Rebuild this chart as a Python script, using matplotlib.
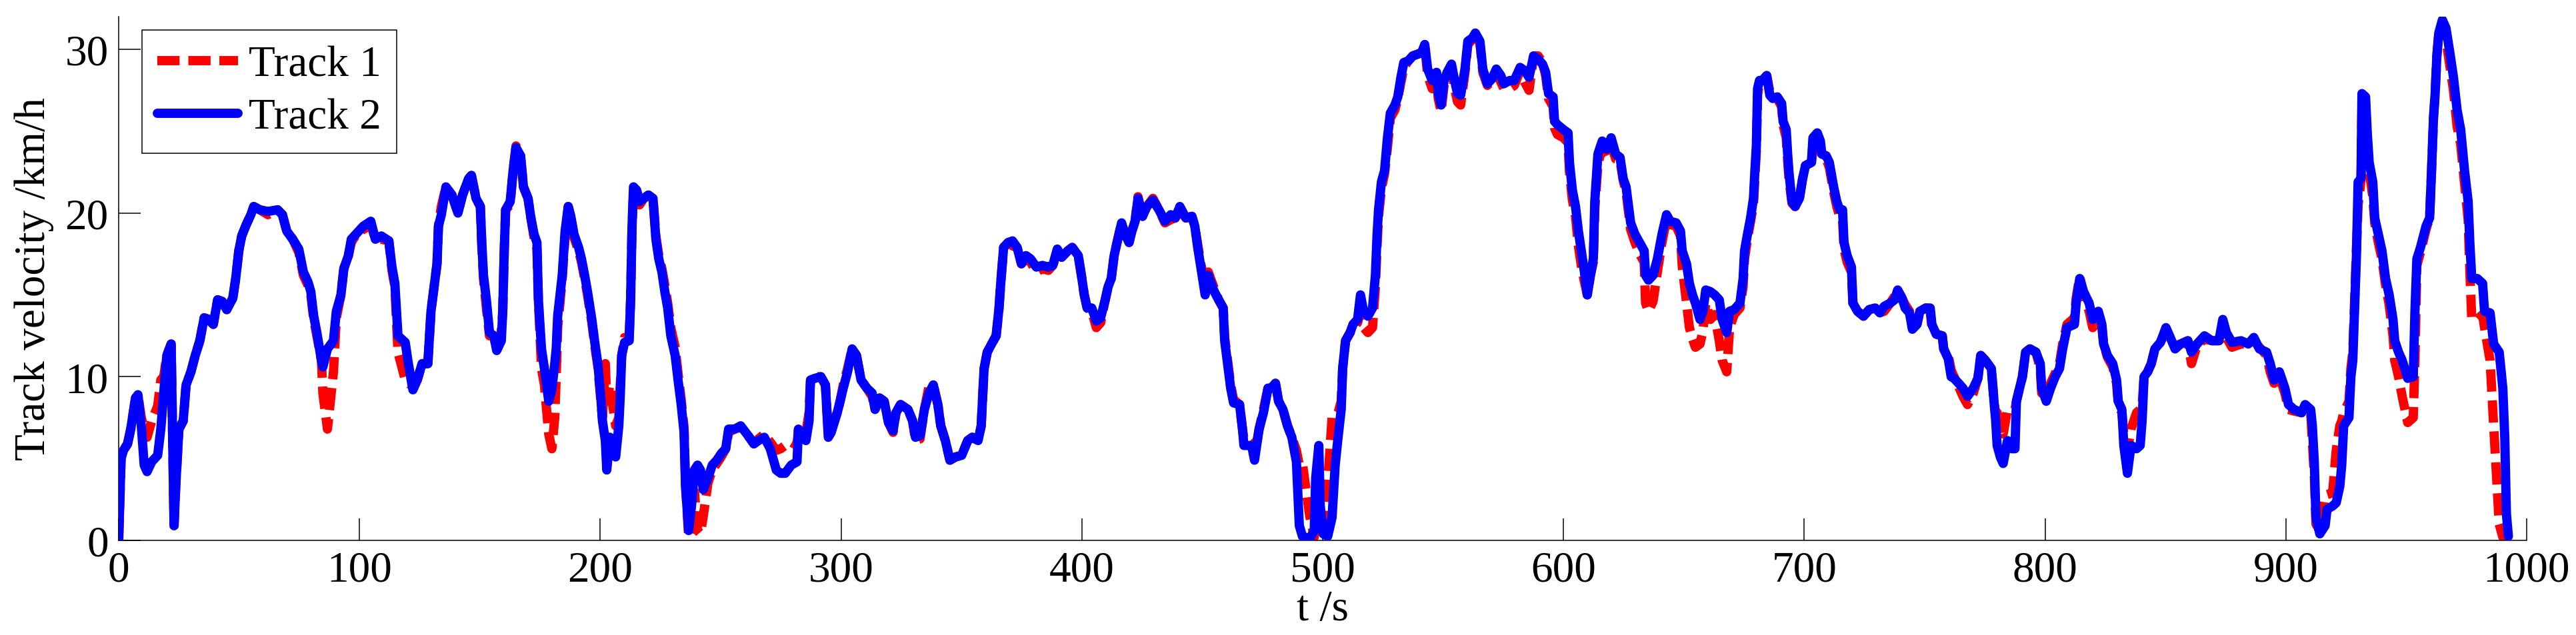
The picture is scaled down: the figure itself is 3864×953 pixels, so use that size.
import matplotlib
matplotlib.use("Agg")
import matplotlib.pyplot as plt

# time axis shared by both tracks (s)
t_s = [
    0, 1, 2, 3.7, 5, 7, 8, 9.4, 10.6, 11.8,
    13.7, 16.2, 17.5, 18.7, 20, 21.8, 23, 23.7, 25, 26.8,
    28, 30, 31.8, 33.7, 35.5, 37.4, 39.3, 41.1, 43, 44.9,
    47.4, 48.6, 49.9, 51.1, 53, 54.9, 56.1, 58.6, 62, 66,
    68, 69.8, 72.3, 74.8, 76.7, 78.6, 79.8, 81, 82.3, 84.2,
    84.8, 86.7, 89.2, 90.4, 92.3, 93.5, 95.4, 96.6, 99.1, 101.6,
    104.7, 106.6, 109.1, 112.2, 113.5, 114.7, 116, 119, 120.3, 122.2,
    124, 126, 128.4, 129.7, 132.2, 132.8, 134, 135.9, 138.4, 140.9,
    142.8, 145.3, 146.5, 148.4, 150.2, 150.8, 151.5, 152.7, 154, 155.8,
    157, 158.9, 159.5, 160.1, 160.7, 162.6, 163.8, 165, 166.9, 168.1,
    170, 171.2, 172.5, 173.7, 174.3, 175.6, 176.8, 178.6, 179.9, 181.1,
    181.7, 182.3, 184.2, 185.4, 186.7, 187.9, 189.1, 191, 192.2, 193.5,
    194.7, 196.5, 197.8, 199, 200.2, 200.9, 202.1, 202.7, 204, 206.4,
    207.7, 208.3, 208.9, 210.1, 212, 212.6, 213.2, 213.8, 215.1, 216.3,
    218.1, 220, 221.9, 223.1, 224.3, 225.6, 226.8, 228, 229.3, 231.1,
    232.3, 233.6, 234.8, 235.4, 236.7, 237.9, 239.1, 240.4, 241.6, 242.8,
    244.7, 246.5, 248.4, 250.2, 252.1, 253.3, 255.8, 258.3, 261.4, 263.8,
    265.7, 268.1, 270.6, 273.1, 274.9, 276.8, 279.3, 281.7, 282.3, 284.2,
    285.4, 286.7, 287.3, 289.1, 291.6, 293.5, 294.7, 295.9, 298.4, 299.6,
    300.9, 302.7, 304.6, 306.4, 308.3, 310.7, 312.9, 314.1, 316, 317.9,
    319.7, 321.6, 322.8, 324.7, 327.8, 329.7, 330.9, 332.8, 334.6, 336.5,
    338.3, 340.2, 341.4, 343.3, 345.2, 347.6, 350.1, 352.6, 354.5, 356.9,
    358.2, 358.8, 359.4, 360.7, 362.5, 364.4, 365.6, 366.3, 367.5, 369.4,
    371.2, 373.1, 374.9, 376.8, 378.7, 381.1, 383.6, 386.1, 387.9, 389.8,
    391.6, 394.2, 396, 398.5, 399.8, 401, 402.2, 404.1, 406, 407.8,
    409.7, 410.9, 412.2, 413.4, 414.6, 416.5, 417.7, 419.6, 420.8, 422.1,
    423.3, 425.2, 427, 429.5, 432, 434.5, 436.9, 438.8, 440.7, 443.2,
    445.7, 446.9, 448.1, 449.4, 451.2, 452.5, 453.7, 455, 456.8, 458.7,
    459.3, 460.5, 461.8, 463, 465.5, 466.7, 467.3, 469.2, 470.5, 471.7,
    473.6, 475.4, 477.3, 478.6, 480.4, 481.7, 483.5, 485.4, 487.2, 489.1,
    490.3, 491.6, 494.6, 496.5, 497.1, 498.4, 499, 500.2, 502.1, 503.9,
    505.2, 506.4, 507.7, 508.3, 509.5, 511.4, 512.6, 514.5, 515.7, 517,
    518.8, 520.7, 521.9, 522.6, 523.2, 524.4, 525.7, 526.9, 528.1, 530,
    531.2, 532.5, 533.7, 535.6, 537.4, 539.3, 541.1, 542.4, 543.6, 545.5,
    547.3, 548, 549.2, 550.4, 551.7, 553.5, 554.8, 556, 557.3, 559.1,
    560.3, 562.2, 563.4, 565.3, 566.5, 568.4, 570.3, 572.1, 574, 575.2,
    577.7, 579.6, 582, 583.9, 585.7, 587.6, 589.5, 591.3, 592.6, 593.8,
    595.7, 596.3, 597.5, 600, 601.9, 602.5, 603.7, 605, 606.2, 607.4,
    608.7, 609.9, 611.2, 612.4, 613, 614.3, 616.1, 618, 619.8, 621.7,
    623.5, 624.8, 626, 627.9, 629.7, 631.6, 633.5, 634.1, 635.3, 637.2,
    639, 640.9, 642.8, 644.3, 646.8, 648.6, 649.3, 651.1, 652.3, 653.6,
    654.8, 656.7, 657.9, 659.1, 661, 662.8, 664.7, 665.9, 667.8, 669,
    670.9, 673.3, 674.6, 675.2, 676.4, 677.7, 678.9, 679.5, 680.1, 680.6,
    681.4, 682.6, 684.4, 685.7, 686.9, 688.8, 690.6, 691.2, 692.5, 693.1,
    693.7, 694.9, 696.2, 698, 699.3, 700.5, 703, 703.6, 705.4, 706.7,
    707.3, 709.1, 710.4, 711, 712.2, 713.5, 714.7, 715.9, 716.5, 717.8,
    719.6, 720.2, 722.1, 724.6, 727, 729.5, 731.4, 733.2, 735.7, 737.5,
    738.8, 740.6, 741.9, 743.7, 744.9, 746.8, 748, 750.5, 752.3, 753,
    754.8, 757.3, 757.9, 759.8, 761, 762.2, 764.1, 765.9, 767.8, 770.2,
    772.1, 773.3, 775.2, 777.7, 778.9, 779.5, 780.1, 781.4, 782.6, 784.4,
    786.3, 787.5, 788.1, 789.4, 790.6, 791.9, 793.7, 796.2, 798, 798.6,
    800.5, 802.3, 804.2, 806, 807.3, 809.1, 812.2, 812.9, 814.4, 816,
    818.3, 819.8, 822.1, 823.6, 824.3, 825.9, 828.1, 829.7, 830.4, 831.9,
    832.7, 834.2, 835.7, 838, 839.5, 840.3, 841.1, 842.6, 844.1, 845.6,
    847.9, 850.2, 851.7, 854, 856.3, 859.3, 860.8, 863.1, 866.2, 869.2,
    872.2, 873.8, 875.3, 877.6, 881.4, 884.4, 886.7, 889, 892, 893.5,
    895.1, 897.3, 899.6, 901.1, 903.4, 906.5, 908, 910.3, 911, 911.8,
    912.5, 914.1, 916.3, 917.1, 919.4, 920.9, 922.4, 923.2, 924, 926.2,
    927, 927.8, 928.5, 929.3, 930, 931.2, 931.6, 933.1, 933.8, 934.6,
    936.1, 936.9, 938.4, 939.9, 941.4, 942.9, 944.5, 945.2, 946.8, 948.3,
    950.6, 952.9, 953.6, 954.4, 955.9, 958.2, 959.7, 960.5, 961.3, 962,
    962.7, 963.5, 965, 966.5, 968.1, 969.6, 971.1, 972.6, 974.2, 975.7,
    976.4, 977.2, 979.5, 981.7, 982.5, 984.8, 986.3, 988.6, 990.1, 990.9,
    991.6, 992.4,
]

# Track 2 velocity (km/h), blue solid
track2 = [
    0, 5.0, 5.5, 5.9, 6.8, 8.7, 8.9, 7.0, 4.6, 4.2,
    4.8, 5.2, 6.8, 9.0, 11.3, 12.0, 0.9, 3.3, 6.8, 7.3,
    9.5, 10.3, 11.3, 12.2, 13.6, 13.5, 13.2, 14.7, 14.6, 14.1,
    14.8, 16.0, 17.7, 18.6, 19.3, 19.9, 20.4, 20.2, 20.1, 20.2,
    19.9, 18.9, 18.4, 17.8, 16.4, 15.8, 15.2, 13.7, 12.7, 11.0,
    10.6, 11.7, 12.2, 14.0, 15.0, 16.6, 17.4, 18.4, 18.8, 19.2,
    19.5, 18.4, 18.6, 18.3, 16.7, 15.7, 12.5, 12.1, 10.8, 9.2,
    9.8, 10.8, 10.8, 14.0, 16.9, 19.2, 19.9, 21.6, 21.1, 20.0,
    21.1, 22.1, 22.3, 20.9, 20.4, 18.2, 16.2, 14.7, 12.7, 12.5,
    11.6, 12.2, 14.0, 17.6, 20.2, 20.7, 22.6, 24.0, 23.5, 21.6,
    20.9, 19.7, 18.7, 18.2, 14.7, 11.7, 10.5, 8.5, 9.2, 10.8,
    11.7, 13.7, 16.2, 18.9, 20.4, 19.7, 18.7, 17.9, 17.2, 16.2,
    15.2, 13.5, 12.0, 10.8, 8.8, 7.3, 6.1, 4.3, 6.3, 5.1,
    7.0, 8.8, 11.3, 12.1, 12.2, 14.7, 19.2, 21.6, 21.4, 20.7,
    20.9, 21.1, 20.9, 18.4, 17.2, 16.4, 15.2, 14.2, 12.5, 11.3,
    9.8, 8.3, 6.6, 3.3, 0.6, 2.1, 4.3, 4.6, 4.3, 3.1,
    3.8, 4.6, 4.9, 5.3, 5.6, 6.8, 6.8, 7.0, 6.4, 5.9,
    6.1, 6.3, 5.6, 4.3, 4.1, 4.1, 4.6, 4.8, 6.8, 6.3,
    6.1, 7.3, 9.8, 9.9, 10.0, 9.5, 6.3, 6.6, 7.8, 8.5,
    9.3, 10.3, 11.7, 11.3, 9.8, 9.3, 9.0, 8.0, 8.7, 8.5,
    7.2, 6.7, 7.8, 8.3, 8.0, 7.3, 6.3, 6.4, 8.0, 9.0,
    9.5, 8.3, 7.0, 6.1, 4.9, 5.1, 5.2, 6.1, 6.3, 6.1,
    7.0, 8.8, 10.5, 11.5, 12.0, 12.5, 14.2, 15.7, 17.9, 18.2,
    18.3, 17.9, 16.9, 17.4, 17.2, 16.7, 16.8, 16.7, 16.8, 17.8,
    17.3, 17.7, 17.9, 17.4, 16.2, 15.0, 14.2, 14.2, 13.4, 13.6,
    14.7, 15.5, 16.0, 17.4, 18.2, 19.4, 18.8, 18.2, 18.9, 19.5,
    20.9, 19.8, 20.4, 20.8, 20.2, 19.5, 19.9, 19.7, 20.4, 19.7,
    19.8, 19.2, 17.9, 16.7, 15.0, 16.2, 15.7, 15.2, 14.7, 14.2,
    12.2, 10.8, 9.3, 8.4, 8.3, 6.8, 5.8, 5.8, 5.8, 4.9,
    6.8, 7.8, 9.3, 9.3, 9.6, 8.5, 8.0, 7.0, 6.3, 4.8,
    0.9, 0.25, 0.1, 0.6, 3.8, 5.8, 2.1, 0.4, 0.25, 1.4,
    4.6, 6.3, 8.0, 10.5, 12.2, 12.7, 13.2, 13.5, 15.0, 14.0,
    13.7, 14.2, 16.2, 18.7, 20.2, 21.9, 22.6, 24.6, 26.1, 26.6,
    27.1, 28.3, 29.2, 29.3, 29.6, 29.7, 29.8, 30.3, 28.8, 28.1,
    28.6, 27.3, 26.6, 28.1, 28.6, 29.1, 28.1, 27.3, 27.2, 28.8,
    30.5, 30.7, 31.0, 30.5, 28.8, 27.9, 28.2, 28.8, 28.4, 27.9,
    28.1, 28.1, 28.9, 28.7, 28.3, 29.6, 29.4, 29.1, 28.6, 27.3,
    27.1, 25.6, 25.4, 25.1, 24.9, 23.1, 21.4, 20.4, 18.9, 17.7,
    16.4, 15.0, 16.2, 17.2, 20.7, 23.6, 24.4, 23.9, 24.6, 23.6,
    23.4, 22.1, 21.6, 19.4, 18.7, 18.2, 17.7, 16.2, 15.9, 16.2,
    17.2, 18.7, 19.9, 19.5, 19.4, 18.9, 17.7, 16.9, 15.7, 15.0,
    14.5, 13.5, 14.0, 15.3, 15.2, 15.0, 14.7, 13.5, 12.7, 14.0,
    14.1, 14.5, 16.0, 17.7, 18.7, 19.7, 20.9, 22.6, 24.1, 27.6,
    28.1, 28.1, 28.4, 27.2, 27.0, 27.1, 26.7, 25.6, 25.1, 23.6,
    22.4, 20.7, 20.4, 20.9, 22.1, 22.9, 23.1, 24.6, 24.9, 24.4,
    23.6, 23.5, 23.1, 22.6, 21.6, 20.7, 20.2, 20.2, 18.2, 17.4,
    16.7, 14.5, 14.0, 13.7, 14.1, 14.2, 13.9, 14.3, 14.5, 14.7,
    15.3, 14.8, 14.2, 13.9, 12.9, 13.2, 14.0, 14.2, 14.2, 13.2,
    12.6, 12.5, 11.7, 11.1, 10.0, 9.9, 9.6, 9.3, 8.8, 9.3,
    9.9, 11.3, 11.0, 10.5, 8.3, 7.3, 5.8, 5.1, 4.7, 6.1,
    5.6, 5.6, 8.5, 9.3, 10.0, 11.5, 11.7, 11.5, 10.8, 9.3,
    8.5, 9.3, 10.0, 10.5, 11.7, 13.0, 13.2, 14.5, 16.0, 15.2,
    14.5, 13.5, 14.0, 13.2, 12.0, 11.3, 10.8, 9.8, 8.5, 8.0,
    5.8, 4.1, 5.8, 5.6, 5.8, 7.3, 10.0, 10.3, 10.8, 11.7,
    12.1, 13.0, 12.5, 11.7, 12.0, 12.2, 11.5, 12.0, 12.5, 12.2,
    12.2, 13.5, 12.7, 12.1, 12.2, 12.0, 12.4, 11.7, 11.5, 10.8,
    9.8, 10.3, 9.3, 8.3, 8.0, 7.8, 8.3, 8.0, 7.0, 4.8,
    1.4, 0.4, 0.9, 1.9, 2.1, 2.3, 3.3, 4.6, 7.0, 7.5,
    10.0, 11.0, 14.0, 17.4, 21.9, 22.1, 27.3, 27.1, 24.9, 23.1,
    21.9, 19.7, 18.7, 17.7, 16.0, 15.0, 13.5, 12.2, 11.5, 11.0,
    9.9, 10.0, 14.0, 17.2, 17.9, 19.2, 19.7, 22.6, 25.8, 27.3,
    29.6, 31.0, 31.8, 31.3, 29.8, 28.3, 26.3, 25.1, 22.6, 20.7,
    18.2, 16.0, 16.0, 15.7, 14.0, 13.9, 12.0, 11.5, 9.3, 6.3,
    1.6, 0.25,
]

# Track 1 velocity (km/h), red dashed
track1 = [
    0, 5.0, 5.5, 5.9, 6.8, 8.7, 8.9, 7.5, 6.8, 6.3,
    7.3, 8.2, 9.8, 10.0, 11.3, 12.0, 0.9, 3.3, 6.8, 7.3,
    9.5, 10.3, 11.3, 12.2, 13.6, 13.5, 13.2, 14.7, 14.6, 14.1,
    14.8, 16.0, 17.7, 18.6, 19.3, 19.9, 20.4, 20.2, 19.9, 20.2,
    19.9, 18.9, 18.4, 17.6, 16.2, 15.6, 15.0, 13.5, 12.5, 11.0,
    9.0, 6.8, 10.3, 13.6, 15.0, 16.6, 17.4, 18.2, 18.8, 19.0,
    19.3, 18.4, 18.4, 18.3, 16.5, 15.5, 11.5, 9.8, 9.6, 9.4,
    9.8, 10.8, 10.8, 14.0, 16.9, 19.2, 20.4, 21.6, 21.1, 20.0,
    21.1, 22.1, 22.3, 20.9, 20.4, 18.0, 16.0, 14.2, 12.5, 12.5,
    11.6, 12.8, 14.0, 17.6, 20.2, 20.5, 22.6, 24.1, 23.5, 21.6,
    20.9, 19.7, 18.5, 17.8, 14.7, 10.5, 9.5, 6.5, 5.6, 7.5,
    10.0, 13.0, 16.0, 18.6, 20.4, 19.7, 18.5, 17.7, 17.0, 16.0,
    15.0, 13.3, 11.8, 10.6, 8.6, 7.5, 10.8, 8.5, 9.5, 7.0,
    7.5, 9.5, 11.3, 12.4, 12.4, 14.7, 19.2, 21.2, 21.0, 20.5,
    20.9, 21.1, 20.9, 18.6, 17.4, 16.6, 15.6, 14.5, 13.0, 11.8,
    10.2, 8.6, 6.9, 3.5, 0.2, 0.8, 3.0, 0.6, 0.4, 1.5,
    3.5, 4.3, 4.7, 5.1, 5.6, 6.6, 6.8, 6.9, 6.4, 5.9,
    6.2, 6.5, 6.0, 5.5, 5.6, 5.8, 6.0, 5.8, 6.8, 6.5,
    6.6, 7.8, 9.8, 10.0, 10.0, 9.5, 6.5, 6.8, 7.8, 8.5,
    9.5, 10.5, 11.7, 11.3, 9.8, 9.3, 8.8, 8.0, 8.7, 8.5,
    7.2, 6.6, 7.8, 8.3, 8.0, 7.3, 6.1, 6.2, 8.0, 9.4,
    9.5, 8.3, 7.0, 6.1, 4.9, 5.1, 5.2, 6.1, 6.3, 6.1,
    7.0, 8.8, 10.5, 11.5, 12.0, 12.5, 14.2, 15.7, 17.9, 18.2,
    18.0, 17.9, 16.9, 17.2, 17.0, 16.4, 16.6, 16.5, 16.8, 17.5,
    17.3, 17.7, 17.9, 17.4, 16.2, 15.0, 14.2, 14.0, 13.0, 13.3,
    14.7, 15.5, 16.0, 17.4, 18.2, 19.4, 18.8, 18.2, 18.9, 19.5,
    21.0, 19.8, 20.4, 20.9, 20.2, 19.4, 19.6, 19.7, 20.2, 19.7,
    19.8, 19.2, 18.1, 16.9, 15.6, 16.4, 15.9, 15.4, 14.7, 14.2,
    12.4, 11.0, 9.5, 8.6, 8.3, 6.8, 6.2, 6.2, 6.0, 5.2,
    6.8, 8.0, 9.3, 9.3, 9.6, 8.5, 8.0, 7.0, 6.3, 5.5,
    4.6, 4.7, 1.5, 0.2, 2.5, 4.5, 1.0, 0.2, 3.5, 7.5,
    7.5, 7.8, 8.5, 10.5, 12.2, 12.7, 13.0, 13.3, 14.0, 13.0,
    12.7, 13.0, 15.5, 18.0, 19.8, 21.5, 22.4, 24.0, 25.8, 26.3,
    27.0, 28.0, 28.9, 29.3, 29.6, 29.7, 29.8, 30.2, 28.4, 27.6,
    28.3, 27.0, 26.2, 27.8, 28.3, 28.8, 27.6, 26.8, 26.6, 28.6,
    30.3, 30.6, 31.0, 30.4, 28.6, 27.8, 28.1, 28.6, 28.0, 27.6,
    27.6, 27.8, 28.7, 28.0, 27.5, 29.6, 29.6, 29.2, 28.4, 27.0,
    26.5, 25.2, 24.8, 24.6, 24.3, 22.5, 20.8, 19.8, 18.0, 16.8,
    15.8, 15.0, 16.2, 17.0, 20.2, 23.0, 24.0, 23.4, 24.2, 23.3,
    23.2, 22.0, 21.3, 19.0, 18.2, 17.5, 17.0, 14.5, 14.0, 14.6,
    16.4, 18.2, 19.6, 19.3, 19.2, 18.6, 16.8, 14.5, 13.0, 12.3,
    11.8, 12.0, 12.8, 14.5, 13.5, 13.8, 12.2, 11.0, 10.3, 13.0,
    13.8, 14.2, 15.5, 17.2, 18.4, 19.5, 20.5, 22.2, 23.8, 27.2,
    28.0, 28.1, 28.4, 27.4, 27.2, 27.0, 26.5, 25.4, 24.6, 23.2,
    22.0, 20.6, 20.4, 20.9, 22.1, 22.9, 23.1, 24.3, 24.6, 24.2,
    23.4, 23.3, 22.8, 22.3, 21.3, 20.4, 19.8, 19.6, 17.8, 17.0,
    16.4, 14.5, 14.0, 13.7, 14.1, 14.2, 13.9, 14.0, 14.5, 14.9,
    15.3, 14.8, 14.4, 14.0, 13.0, 13.2, 14.0, 14.2, 14.0, 13.0,
    12.6, 12.5, 11.7, 11.3, 10.4, 10.0, 9.4, 8.8, 8.3, 9.0,
    9.9, 11.3, 11.0, 10.5, 8.3, 7.8, 7.8, 7.0, 6.5, 8.0,
    8.0, 8.0, 8.5, 9.3, 10.0, 11.5, 11.7, 11.5, 10.5, 9.0,
    8.8, 9.6, 10.2, 10.8, 12.0, 13.2, 13.6, 14.8, 16.1, 15.0,
    14.0, 13.0, 13.5, 13.0, 12.0, 11.2, 10.6, 9.6, 8.3, 7.8,
    6.5, 5.5, 6.8, 7.8, 8.0, 8.2, 10.0, 10.3, 10.8, 11.7,
    12.1, 12.8, 12.3, 11.9, 12.0, 12.2, 10.8, 11.9, 12.3, 12.2,
    12.2, 12.5, 12.4, 11.8, 12.0, 12.0, 12.2, 11.8, 11.3, 10.3,
    9.6, 10.0, 9.0, 8.0, 7.9, 7.8, 8.2, 7.8, 6.0, 4.0,
    1.0, 0.6, 2.7, 2.8, 2.9, 5.5, 7.0, 7.3, 7.8, 8.5,
    10.5, 11.5, 14.5, 17.8, 20.5, 22.0, 26.5, 26.5, 24.5, 22.6,
    21.0, 19.4, 18.2, 17.2, 15.6, 14.4, 12.5, 11.0, 10.0, 8.8,
    7.2, 7.5, 11.0, 16.8, 17.6, 19.0, 19.7, 22.6, 25.8, 27.3,
    29.6, 31.0, 31.6, 30.6, 29.0, 27.5, 25.3, 24.2, 21.8, 19.6,
    16.5, 13.5, 13.5, 13.8, 13.0, 11.0, 7.0, 1.0, 0.2, 0.2,
    0.2, 0.2,
]

x_ticks = [0, 100, 200, 300, 400, 500, 600, 700, 800, 900, 1000]
y_ticks = [0, 10, 20, 30]

plt.rcParams["font.family"] = "serif"
plt.rcParams["font.serif"] = ["Liberation Serif", "DejaVu Serif"]

W, H = 3864, 954
fig = plt.figure(figsize=(W / 100, H / 100), dpi=100)
ax = fig.add_axes([178 / W, 1 - 812 / H, 3612 / W, 786 / H])

lw = 10
fs = 47
ax.plot(t_s, track1, color=(1, 0, 0), lw=lw, linestyle=(0, (2.4, 0.95)),
        dash_capstyle="butt", label="Track 1", zorder=2)
ax.plot(t_s, track2, color=(0, 0, 1), lw=lw, solid_capstyle="round",
        solid_joinstyle="round", label="Track 2", zorder=3)

ax.set_xlim(0, 1000)
ax.set_ylim(0, 32)
ax.set_xticks(x_ticks)
ax.set_yticks(y_ticks)
ax.tick_params(direction="in", length=24, width=1.1, labelsize=fs, pad=11)
for side in ["top", "right"]:
    ax.spines[side].set_visible(False)
for side in ["left", "bottom"]:
    ax.spines[side].set_linewidth(1.1)

ax.set_xlabel("t /s", fontsize=fs, labelpad=-1)
ax.set_ylabel("Track velocity /km/h", fontsize=fs, labelpad=12)

leg = ax.legend(loc="upper left", bbox_to_anchor=(35 / 3612, 1 - 20 / 786),
                borderaxespad=0, fontsize=fs, frameon=True, fancybox=False,
                edgecolor="black", framealpha=1, handlelength=1.85,
                handletextpad=0.25, borderpad=0.35, labelspacing=0.3)
leg.get_frame().set_linewidth(1.1)

fig.savefig("out.png", dpi=100)
